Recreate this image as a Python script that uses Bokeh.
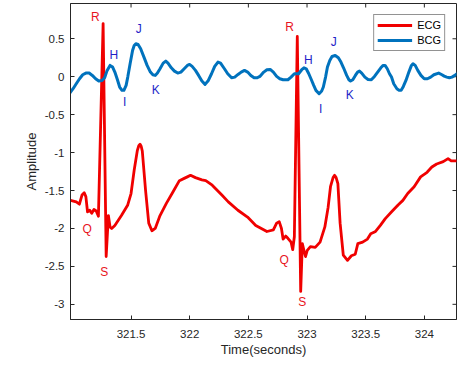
import math
from bokeh.plotting import figure
from bokeh.models import Range1d, FixedTicker, ColumnDataSource, Legend, LegendItem
from bokeh.core.properties import value
from bokeh.embed import file_html
from bokeh.resources import INLINE

# ---------------- data ----------------
ecg_t = [320.984, 321.033, 321.060, 321.082, 321.101, 321.115, 321.129, 321.148, 321.165, 321.184,
         321.203, 321.222, 321.262, 321.288, 321.307, 321.321, 321.335, 321.362, 321.418, 321.472,
         321.500, 321.527, 321.554, 321.566, 321.577, 321.587, 321.596, 321.624, 321.651, 321.678,
         321.706, 321.747, 321.801, 321.857, 321.912, 321.953, 321.980, 322.007, 322.049, 322.104,
         322.137, 322.192, 322.274, 322.329, 322.411, 322.493, 322.563, 322.658, 322.713, 322.741,
         322.763, 322.782, 322.796, 322.818, 322.837, 322.864, 322.878, 322.892, 322.917, 322.946,
         322.960, 322.974, 322.987, 323.002, 323.029, 323.070, 323.111, 323.152, 323.180, 323.200,
         323.222, 323.235, 323.248, 323.263, 323.282, 323.309, 323.345, 323.378, 323.411, 323.433,
         323.474, 323.515, 323.543, 323.584, 323.625, 323.667, 323.721, 323.776, 323.817, 323.858,
         323.913, 323.968, 324.023, 324.064, 324.105, 324.161, 324.202, 324.229, 324.284, 324.310]
ecg_v = [-1.63, -1.65, -1.68, -1.56, -1.53, -1.58, -1.78, -1.76, -1.80, -1.75,
         -1.77, -1.84, 0.70, -2.37, -1.83, -1.98, -2.00, -1.96, -1.83, -1.69,
         -1.54, -1.23, -0.97, -0.91, -0.89, -0.92, -0.98, -1.50, -1.93, -2.03,
         -2.00, -1.83, -1.67, -1.52, -1.37, -1.34, -1.32, -1.30, -1.33, -1.36,
         -1.37, -1.43, -1.56, -1.65, -1.76, -1.85, -1.96, -2.04, -2.02, -1.93,
         -1.91, -2.00, -2.14, -2.10, -2.13, -2.18, -2.28, -2.11, 0.53, -2.83,
         -2.20, -2.29, -2.37, -2.29, -2.24, -2.25, -2.18, -1.98, -1.72, -1.45,
         -1.33, -1.30, -1.33, -1.41, -1.93, -2.35, -2.42, -2.36, -2.34, -2.20,
         -2.18, -2.14, -2.07, -2.04, -1.96, -1.87, -1.78, -1.69, -1.63, -1.54,
         -1.45, -1.32, -1.26, -1.19, -1.15, -1.12, -1.08, -1.11, -1.11, -1.10]

bcg_t = [320.951, 320.978, 321.006, 321.033, 321.061, 321.088, 321.115, 321.143, 321.170, 321.198,
         321.225, 321.253, 321.275, 321.294, 321.321, 321.343, 321.362, 321.384, 321.403, 321.423,
         321.439, 321.458, 321.472, 321.492, 321.513, 321.527, 321.541, 321.560, 321.582, 321.610,
         321.637, 321.665, 321.686, 321.706, 321.725, 321.747, 321.774, 321.796, 321.815, 321.843,
         321.870, 321.898, 321.925, 321.953, 321.980, 321.999, 322.021, 322.049, 322.076, 322.104,
         322.131, 322.159, 322.186, 322.213, 322.241, 322.263, 322.296, 322.324, 322.357, 322.384,
         322.412, 322.439, 322.467, 322.494, 322.521, 322.549, 322.576, 322.598, 322.631, 322.658,
         322.686, 322.713, 322.741, 322.768, 322.796, 322.837, 322.864, 322.892, 322.928, 322.955,
         322.974, 322.993, 323.015, 323.037, 323.057, 323.076, 323.103, 323.125, 323.139, 323.158,
         323.174, 323.194, 323.213, 323.240, 323.267, 323.289, 323.311, 323.338, 323.357, 323.371,
         323.390, 323.412, 323.431, 323.447, 323.466, 323.493, 323.520, 323.548, 323.575, 323.602,
         323.629, 323.649, 323.665, 323.684, 323.703, 323.720, 323.739, 323.766, 323.785, 323.802,
         323.821, 323.843, 323.868, 323.890, 323.903, 323.922, 323.944, 323.971, 323.999, 324.026,
         324.054, 324.081, 324.122, 324.150, 324.169, 324.191, 324.213, 324.235, 324.260, 324.284,
         324.300]
bcg_v = [-0.259, -0.215, -0.158, -0.093, -0.027, 0.026, 0.048, 0.048, 0.017, -0.027,
         -0.057, -0.049, -0.014, 0.074, 0.149, 0.127, 0.061, -0.040, -0.136, -0.180,
         -0.180, -0.114, -0.005, 0.171, 0.346, 0.412, 0.434, 0.425, 0.368, 0.258,
         0.149, 0.061, 0.026, 0.017, 0.048, 0.105, 0.179, 0.206, 0.179, 0.118,
         0.074, 0.048, 0.061, 0.105, 0.149, 0.162, 0.136, 0.083, 0.017, -0.057,
         -0.101, -0.049, 0.039, 0.136, 0.193, 0.179, 0.105, 0.039, -0.014, -0.005,
         0.030, 0.061, 0.083, 0.061, 0.017, -0.014, -0.014, 0.004, 0.061, 0.092,
         0.096, 0.061, 0.004, -0.027, -0.040, -0.040, -0.005, 0.039, 0.039, 0.092,
         0.118, 0.105, 0.039, -0.040, -0.114, -0.180, -0.224, -0.189, -0.136, -0.005,
         0.127, 0.214, 0.267, 0.280, 0.250, 0.193, 0.118, 0.017, -0.040, -0.057,
         -0.040, 0.017, 0.061, 0.074, 0.048, -0.005, -0.036, -0.040, 0.004, 0.061,
         0.118, 0.149, 0.149, 0.105, 0.039, -0.005, -0.093, -0.158, -0.180, -0.180,
         -0.128, -0.049, 0.061, 0.149, 0.171, 0.149, 0.083, 0.017, -0.027, -0.027,
         -0.005, 0.026, 0.048, 0.026, 0.008, -0.005, -0.014, -0.005, 0.017, 0.048,
         0.083]

ecg_label_text = ["R", "Q", "S", "R", "Q", "S"]
ecg_label_x = [321.195, 321.126, 321.272, 322.851, 322.806, 322.960]
ecg_label_y = [0.784, -2.01, -2.57, 0.653, -2.42, -2.97]

bcg_label_text = ["H", "I", "J", "K", "H", "I", "J", "K"]
bcg_label_x = [321.354, 321.445, 321.566, 321.711, 323.012, 323.117, 323.227, 323.364]
bcg_label_y = [0.28, -0.334, 0.632, -0.171, 0.214, -0.42, 0.455, -0.246]

x_ticks = [321.5, 322, 322.5, 323, 323.5, 324]
x_tick_labels = ["321.5", "322", "322.5", "323", "323.5", "324"]
y_ticks = [-3, -2.5, -2, -1.5, -1, -0.5, 0, 0.5]
y_tick_labels = ["-3", "-2.5", "-2", "-1.5", "-1", "-0.5", "0", "0.5"]

x_lim = (320.984, 324.274)
y_lim = (-3.2, 0.965)

x_title = "Time(seconds)"
y_title = "Amplitude"

# ---------------- styling ----------------
AX = "#262626"
FONT = "Liberation Sans"
ECG_COLOR = "#f00000"
BCG_COLOR = "#0072bd"
ECG_LAB = "#e8141c"
BCG_LAB = "#1f1fc8"

p = figure(width=458, height=370, output_backend="svg", toolbar_location=None,
           x_range=Range1d(*x_lim), y_range=Range1d(*y_lim),
           min_border_left=70, min_border_right=2, min_border_top=3, min_border_bottom=51)
p.background_fill_color = "white"
p.border_fill_color = "white"
p.outline_line_color = AX
p.outline_line_width = 1
p.xgrid.grid_line_color = None
p.ygrid.grid_line_color = None

def style_axis(ax, ticks, labels):
    ax.ticker = FixedTicker(ticks=ticks)
    ax.major_label_overrides = {float(t): l for t, l in zip(ticks, labels)}
    ax.axis_line_color = AX
    ax.major_tick_line_color = AX
    ax.major_tick_in = 4
    ax.major_tick_out = 0
    ax.minor_tick_line_color = None
    ax.major_label_text_color = AX
    ax.major_label_text_font = FONT
    ax.major_label_text_font_size = "11.5px"
    ax.axis_label_text_font = FONT
    ax.axis_label_text_font_size = "13px"
    ax.axis_label_text_font_style = "normal"
    ax.axis_label_text_color = AX

xa = p.xaxis[0]
ya = p.yaxis[0]
style_axis(xa, x_ticks, x_tick_labels)
style_axis(ya, y_ticks, y_tick_labels)
xa.major_label_standoff = 10
ya.major_label_standoff = 6
xa.axis_label = x_title
ya.axis_label = y_title
xa.axis_label_standoff = 1
ya.axis_label_standoff = 3

# inward ticks on the top and right sides of the box
p.ray(x=x_ticks, y=[y_lim[1]] * len(x_ticks), length=4, length_units="screen",
      angle=-math.pi / 2, line_color=AX, line_width=1)
p.ray(x=[x_lim[1]] * len(y_ticks), y=y_ticks, length=4, length_units="screen",
      angle=math.pi, line_color=AX, line_width=1)

r_ecg = p.line(ecg_t, ecg_v, line_color=ECG_COLOR, line_width=2.8, line_join="round")
r_bcg = p.line(bcg_t, bcg_v, line_color=BCG_COLOR, line_width=3, line_join="round")

src_e = ColumnDataSource(dict(x=ecg_label_x, y=ecg_label_y, t=ecg_label_text))
p.text("x", "y", text="t", source=src_e, text_color=ECG_LAB, text_font=value(FONT),
       text_font_size="12px", text_align="center", text_baseline="middle")
src_b = ColumnDataSource(dict(x=bcg_label_x, y=bcg_label_y, t=bcg_label_text))
p.text("x", "y", text="t", source=src_b, text_color=BCG_LAB, text_font=value(FONT),
       text_font_size="12px", text_align="center", text_baseline="middle")

legend = Legend(items=[LegendItem(label="ECG", renderers=[r_ecg]),
                       LegendItem(label="BCG", renderers=[r_bcg])],
                location="top_right")
legend.margin = 11
legend.padding = 3
legend.spacing = 1
legend.glyph_width = 35
legend.glyph_height = 14
legend.label_height = 14
legend.label_standoff = 5
legend.label_text_font = FONT
legend.label_text_font_size = "11px"
legend.label_text_color = "black"
legend.border_line_color = AX
legend.border_line_width = 1
legend.background_fill_color = "white"
legend.background_fill_alpha = 1
p.add_layout(legend)

open("out.html", "w").write(file_html(p, INLINE))
